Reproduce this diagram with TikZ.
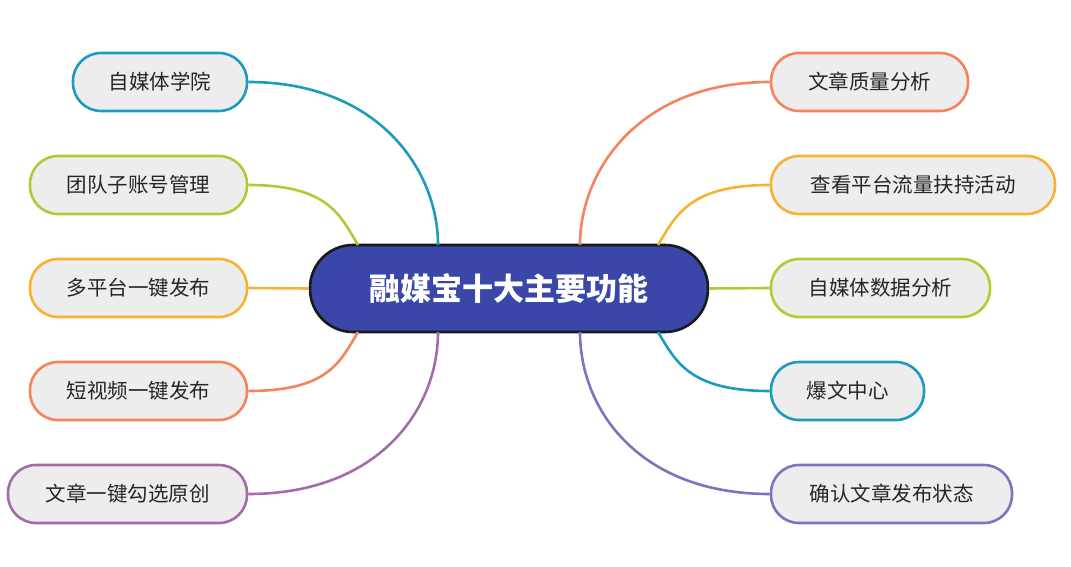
\documentclass[tikz,border=0pt]{standalone}
\usepackage{fontspec}
\setmainfont{Noto Sans CJK SC}
\definecolor{cteal}{HTML}{1A9BBF}
\definecolor{cgreen}{HTML}{B5C934}
\definecolor{corange}{HTML}{F8B133}
\definecolor{csalmon}{HTML}{F5845C}
\definecolor{cpurple}{HTML}{A46BAB}
\definecolor{cblue}{HTML}{7B74BF}
\definecolor{cmain}{HTML}{3A47A8}
\begin{document}
\begin{tikzpicture}[x=1pt,y=-1pt,
  leaf/.style={draw=#1,line width=2.6pt,fill=black!7,rounded corners=28pt,minimum height=58pt,font=\fontsize{20.5pt}{23pt}\selectfont,text=black!85,inner sep=0pt},
  link/.style={draw=#1,line width=2.6pt}]
\useasboundingbox (0,0) rectangle (1071,567);
\node[draw=black!90,line width=2.6pt,fill=cmain,rounded corners=43pt,minimum width=398pt,minimum height=87pt,text=white,font=\fontsize{31pt}{34pt}\selectfont\bfseries] (c) at (509,288.5) {融媒宝十大主要功能};
\coordinate (cl1) at (438,245); \coordinate (cl2) at (358,245);
\coordinate (cl4) at (358,332); \coordinate (cl5) at (438,332);
\coordinate (cr1) at (580,245); \coordinate (cr2) at (658,245);
\coordinate (cr4) at (658,332); \coordinate (cr5) at (580,332);
\node[leaf=cteal,minimum width=174pt] (l1) at (160,82) {自媒体学院};
\node[leaf=cgreen,minimum width=217pt] (l2) at (138.5,185) {团队子账号管理};
\node[leaf=corange,minimum width=217pt] (l3) at (138.5,288) {多平台一键发布};
\node[leaf=csalmon,minimum width=217pt] (l4) at (138.5,391) {短视频一键发布};
\node[leaf=cpurple,minimum width=239pt] (l5) at (127.5,494) {文章一键勾选原创};
\node[leaf=csalmon,minimum width=197pt] (r1) at (869.5,82) {文章质量分析};
\node[leaf=corange,minimum width=284pt] (r2) at (913,185) {查看平台流量扶持活动};
\node[leaf=cgreen,minimum width=219pt] (r3) at (880.5,288) {自媒体数据分析};
\node[leaf=cteal,minimum width=153pt] (r4) at (847.5,391) {爆文中心};
\node[leaf=cblue,minimum width=241pt] (r5) at (891.5,494) {确认文章发布状态};
\draw[link=cteal] (l1.east) .. controls +(130,0) and (438,170) .. (cl1);
\draw[link=cgreen] (l2.east) .. controls +(80,0) and (340,215) .. (cl2);
\draw[link=corange] (l3.east) -- (c.west);
\draw[link=csalmon] (l4.east) .. controls +(80,0) and (340,362) .. (cl4);
\draw[link=cpurple] (l5.east) .. controls +(130,0) and (438,410) .. (cl5);
\draw[link=csalmon] (r1.west) .. controls +(-130,0) and (580,170) .. (cr1);
\draw[link=corange] (r2.west) .. controls +(-80,0) and (676,215) .. (cr2);
\draw[link=cgreen] (r3.west) -- (c.east);
\draw[link=cteal] (r4.west) .. controls +(-80,0) and (676,362) .. (cr4);
\draw[link=cblue] (r5.west) .. controls +(-130,0) and (580,410) .. (cr5);
\end{tikzpicture}
\end{document}
